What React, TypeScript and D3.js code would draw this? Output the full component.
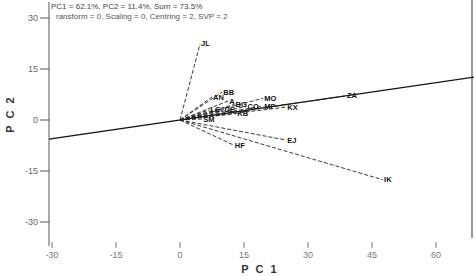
import React from "react";
import * as d3 from "d3";

const xTicks = [-30, -15, 0, 15, 30, 45, 60];
const yTicks = [30, 15, 0, -15, -30];
const titleLine1 = "PC1 = 62.1%, PC2 = 11.4%, Sum = 73.5%";
const titleLine2 = "ransform = 0, Scaling = 0, Centring = 2, SVP = 2";

const vecLabels = ["JL", "BB", "AN", "A", "MO", "MP", "KX", "ZA", "SM", "EJ", "HF", "IK", "BG", "CO", "DE", "KB", "LG"];
const vecPC1 = [4.7, 9.9, 7.5, 11.3, 19.5, 19.5, 24.9, 38.9, 5.2, 24.9, 12.6, 47.6, 12.8, 15.6, 10.2, 13.2, 6.9];
const vecPC2 = [22.4, 8.2, 6.8, 5.6, 6.4, 4.1, 3.8, 7.1, 0.3, -5.9, -7.4, -17.6, 4.6, 4.0, 3.0, 1.9, 3.0];

// average-environment axis (through origin)
const axisSlope = 0.183;
const axisXRange = [-30.7, 70];

export default function App() {
  const W = 474, H = 276;
  const x = d3.scaleLinear().domain([-30, 60]).range([52, 436]);
  const y = d3.scaleLinear().domain([-30, 30]).range([222, 18]);
  const font = "'Liberation Sans', Arial, sans-serif";
  const line = d3.line<number>().x((d) => x(d)).y((d) => y(d * axisSlope));

  return (
    <svg width={W} height={H} style={{ position: "absolute", left: 0, top: 0, background: "#fff" }} fontFamily={font}>
      {/* right gray border */}
      <line x1={472} x2={472} y1={0} y2={238} stroke="#9a9a9a" strokeWidth={2} />
      {/* y axis */}
      <line x1={49} x2={49} y1={2} y2={246} stroke="#555" strokeWidth={1} />
      {yTicks.map((t) => (
        <g key={"y" + t}>
          <line x1={40} x2={49} y1={y(t)} y2={y(t)} stroke="#555" strokeWidth={1} />
          <text x={38} y={y(t)} dy="0.35em" textAnchor="end" fontSize={9} fill="#666">
            {t}
          </text>
        </g>
      ))}
      {/* x ticks */}
      {xTicks.map((t) => (
        <g key={"x" + t}>
          <line x1={x(t)} x2={x(t)} y1={242} y2={248} stroke="#777" strokeWidth={1} />
          <text x={x(t)} y={258} textAnchor="middle" fontSize={9} fill="#777">
            {t}
          </text>
        </g>
      ))}
      {/* titles */}
      <text x={51} y={9} fontSize={8} fill="#444">{titleLine1}</text>
      <text x={56} y={19} fontSize={8} fill="#555">{titleLine2}</text>
      <text x={260} y={273} textAnchor="middle" fontSize={11} fontWeight="bold" fill="#333" letterSpacing={2}>
        P C 1
      </text>
      <text transform={`translate(14,114) rotate(-90)`} textAnchor="middle" fontSize={11} fontWeight="bold" fill="#333" letterSpacing={2}>
        P C 2
      </text>
      {/* axis line */}
      <path d={line(axisXRange) || ""} stroke="#111" strokeWidth={1.4} fill="none" />
      {/* vectors */}
      {vecLabels.map((lab, i) => (
        <line
          key={"v" + lab}
          x1={x(0)}
          y1={y(0)}
          x2={x(vecPC1[i])}
          y2={y(vecPC2[i])}
          stroke="#222"
          strokeWidth={0.9}
          strokeDasharray="4,2"
        />
      ))}
      {vecLabels.map((lab, i) => (
        <text
          key={"t" + lab}
          x={x(vecPC1[i]) + 1}
          y={y(vecPC2[i])}
          dy="0.35em"
          fontSize={7.5}
          fontWeight="bold"
          fill="#111"
        >
          {lab}
        </text>
      ))}
    </svg>
  );
}
